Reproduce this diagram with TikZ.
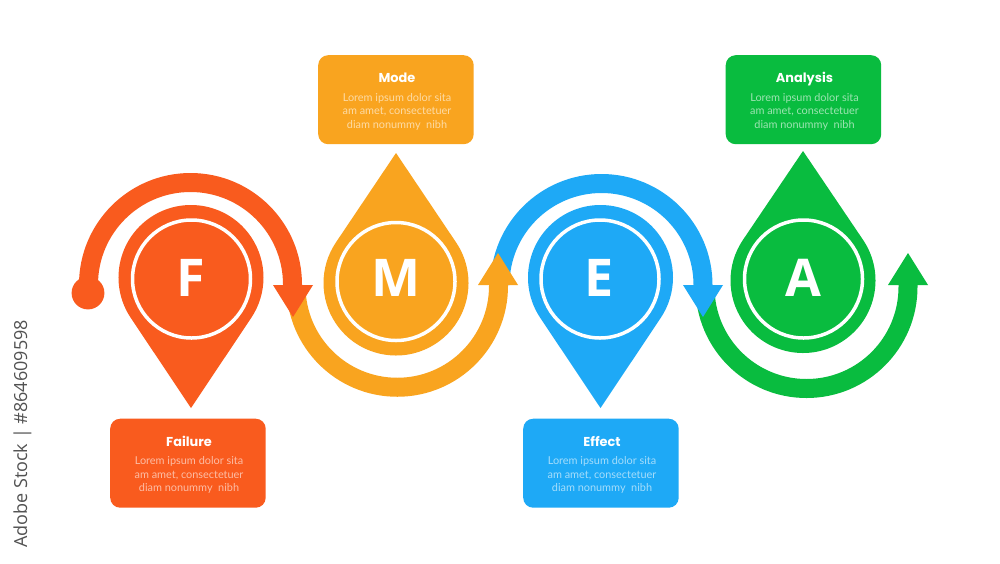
\documentclass[tikz,border=0pt]{standalone}
\usepackage{fontspec}
\setmainfont{Lato}
\newfontfamily\titlefont{Poppins}
\newfontfamily\letterfont{Open Sans}
\newfontfamily\stockfont{Open Sans}
\definecolor{cF}{HTML}{F95B1E}
\definecolor{cM}{HTML}{F9A41F}
\definecolor{cE}{HTML}{1EA9F6}
\definecolor{cA}{HTML}{09BC3F}
\tikzset{
  band/.style={line width=19pt},
  ringnode/.style={circle,draw=white,line width=3.5pt,minimum size=118pt,inner sep=0pt},
  letternode/.style={text=white,inner sep=0pt,font=\letterfont\bfseries\fontsize{52}{52}\selectfont},
  cardnode/.style={rounded corners=10pt,minimum width=155.5pt,minimum height=89pt,inner sep=0pt},
  cardtitle/.style={anchor=base,text=white,inner sep=0pt,font=\titlefont\bfseries\fontsize{12.9}{14}\selectfont},
  cardbody/.style={anchor=base,inner sep=0pt,font=\fontsize{10.9}{13}\selectfont},
}
% #1 colour, #2 prefix, #3 centre x, #4 centre y, #5 tip x, #6 tip y, #7 start angle, #8 end angle
\newcommand{\dropshape}[8]{%
  \coordinate (#2c) at (#3,#4);
  \coordinate (#2t) at (#5,#6);
  \fill[#1] (#2t) -- ([shift={(#7:72.5)}]#2c) arc[start angle=#7,end angle=#8,radius=72.5] -- cycle;
}
% #1 colour, #2 prefix, #3 left x, #4 top y, #5 title
\newcommand{\infocard}[5]{%
  \node[cardnode,fill=#1,anchor=north west] (#2box) at (#3,#4) {};
  \node[cardtitle] (#2title) at ([shift={(79,27.5)}]#3,#4) {#5};
  \node[cardbody,text=#1!40!white] (#2la) at ([shift={(79,46)}]#3,#4) {Lorem ipsum dolor sita};
  \node[cardbody,text=#1!40!white] (#2lb) at ([shift={(79,59.5)}]#3,#4) {am amet, consectetuer};
  \node[cardbody,text=#1!40!white] (#2lc) at ([shift={(79,73)}]#3,#4) {diam nonummy\ \ nibh};
}
\begin{document}
\begin{tikzpicture}[x=1pt,y=-1pt]
\useasboundingbox (0,0) rectangle (1000,563);
\fill[white] (0,0) rectangle (1000,563);

% connectors, back to front
\coordinate (gla) at (705,287);
\coordinate (gh) at (908,270);
\draw[band,cA] (gla) arc[start angle=180,end angle=0,radius=101.5] -- (gh);
\fill[cA] (888,285) coordinate (ga) -- (928,285) coordinate (gb) -- (908,253) coordinate (gc) -- cycle;

\coordinate (bla) at (500,285);
\coordinate (bh) at (703,300);
\draw[band,cE] (bla) arc[start angle=180,end angle=360,radius=101.5] -- (bh);
\fill[cE] (683,285) coordinate (ba) -- (723,285) coordinate (bb) -- (703,317) coordinate (bc) -- cycle;

\coordinate (ola) at (296,286);
\coordinate (oh) at (498.5,270);
\draw[band,cM] (ola) arc[start angle=180,end angle=0,radius=101.25] -- (oh);
\fill[cM] (478,285) coordinate (oa) -- (518,285) coordinate (ob) -- (498,253) coordinate (oc) -- cycle;

\coordinate (rd) at (88,293);
\coordinate (rla) at (88.5,284.5);
\coordinate (rh) at (292.5,300);
\draw[band,cF] (rd) -- (rla) arc[start angle=180,end angle=360,radius=102] -- (rh);
\fill[cF] (rd) circle[radius=16.4];
\fill[cF] (273,285) coordinate (ra) -- (313,285) coordinate (rb) -- (293,317) coordinate (rc) -- cycle;

% pins
\dropshape{cF}{f}{191}{277.5}{191}{408}{146.25}{393.75}
\dropshape{cM}{m}{396}{283}{396}{153}{326.25}{573.75}
\dropshape{cE}{e}{600.5}{277.5}{600.5}{408}{146.25}{393.75}
\dropshape{cA}{a}{803}{280.5}{803}{151}{326.25}{573.75}

\node[ringnode] (fring) at (191.5,279) {};
\node[ringnode] (mring) at (396,281.5) {};
\node[ringnode] (ering) at (600,279) {};
\node[ringnode] (aring) at (803.5,279) {};
\node[letternode] (fletter) at (191,277.5) {F};
\node[letternode] (mletter) at (396,277.5) {M};
\node[letternode] (eletter) at (599,277.5) {E};
\node[letternode] (aletter) at (803,277.5) {A};

% cards
\infocard{cF}{f}{110}{418.5}{Failure}
\infocard{cM}{m}{318}{55}{Mode}
\infocard{cE}{e}{523}{418.5}{Effect}
\infocard{cA}{a}{725.5}{55}{Analysis}

\node[rotate=90,anchor=west,text=black!68,inner sep=0pt,font=\stockfont\fontsize{18}{18}\selectfont] (stock) at (22.5,548) {Adobe Stock | \#864609598};
\end{tikzpicture}
\end{document}
